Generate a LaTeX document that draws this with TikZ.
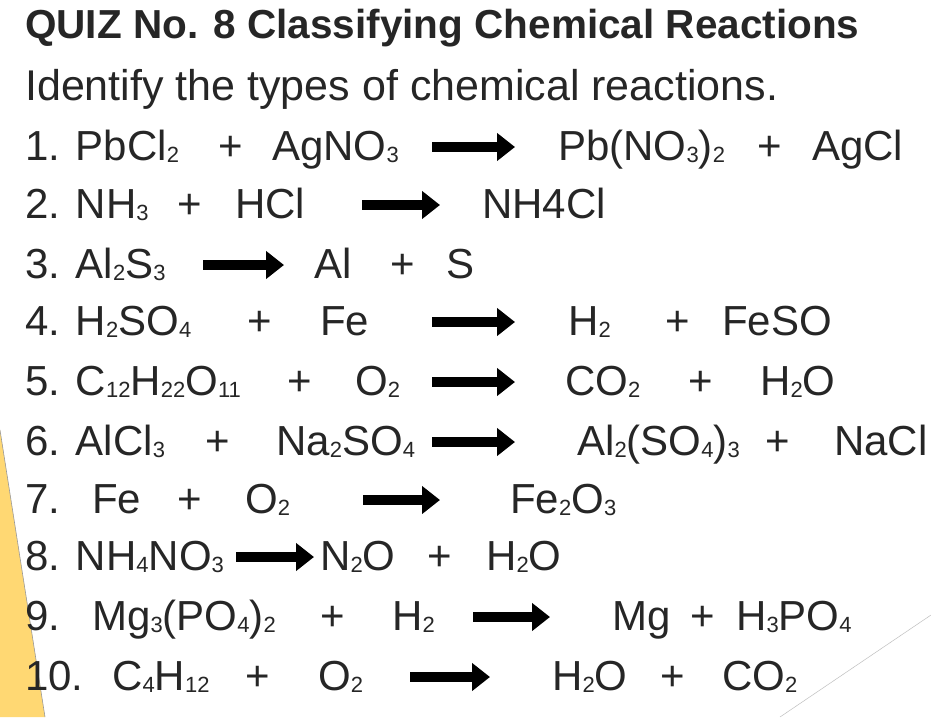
\documentclass[tikz,border=0pt]{standalone}
\usepackage{fontspec}
\setmainfont{Liberation Sans}
\usetikzlibrary{arrows.meta}
\newcommand{\sbs}[1]{\raisebox{-2pt}{\fontsize{22}{22}\selectfont #1}}
\tikzset{
  chem/.style={anchor=base west, inner sep=0pt, font=\fontsize{42}{44}\selectfont, text=black!85},
  react/.style={-{Triangle[length=18pt,width=27pt]}, line width=10pt, black},
}
\begin{document}
\begin{tikzpicture}[x=1pt,y=-1pt]
  \useasboundingbox (0,0) rectangle (931,717);
  \fill[white] (0,0) rectangle (931,717);

  % page decoration
  \fill[orange!55!yellow!55] (0,430) -- (45,717) -- (0,717) -- cycle;
  \draw[black!40, line width=0.6pt] (0,430) -- (45,717);
  \draw[black!25, line width=0.5pt] (780,717) -- (931,615);

  % heading
  \node[chem, font=\bfseries\fontsize{40.5}{42}\selectfont] (title) at (25,38) {QUIZ No. 8 Classifying Chemical Reactions};
  \node[chem, font=\fontsize{43}{45}\selectfont] (task) at (25,100) {Identify the types of chemical reactions.};

  % 1
  \node[chem] (r1a) at (25,160) {1. PbCl\sbs{2}};
  \node[chem] (r1p) at (218,160) {+};
  \node[chem] (r1b) at (272,160) {AgNO\sbs{3}};
  \draw[react] (432,147) -- (515,147);
  \node[chem] (r1c) at (558,160) {Pb(NO\sbs{3})\sbs{2}};
  \node[chem] (r1q) at (757,160) {+};
  \node[chem] (r1d) at (812,160) {AgCl};

  % 2
  \node[chem] (r2a) at (25,218) {2. NH\sbs{3}};
  \node[chem] (r2p) at (177,218) {+};
  \node[chem] (r2b) at (235,218) {HCl};
  \draw[react] (362,205) -- (440,205);
  \node[chem] (r2c) at (482,218) {NH4Cl};

  % 3
  \node[chem] (r3a) at (25,278) {3. Al\sbs{2}S\sbs{3}};
  \draw[react] (203,265) -- (284,265);
  \node[chem] (r3b) at (314,278) {Al};
  \node[chem] (r3p) at (390,278) {+};
  \node[chem] (r3c) at (446,278) {S};

  % 4
  \node[chem] (r4a) at (25,335) {4. H\sbs{2}SO\sbs{4}};
  \node[chem] (r4p) at (247,335) {+};
  \node[chem] (r4b) at (320,335) {Fe};
  \draw[react] (432,322) -- (515,322);
  \node[chem] (r4c) at (568,335) {H\sbs{2}};
  \node[chem] (r4q) at (665,335) {+};
  \node[chem] (r4d) at (722,335) {FeSO};

  % 5
  \node[chem] (r5a) at (25,395) {5. C\sbs{12}H\sbs{22}O\sbs{11}};
  \node[chem] (r5p) at (287,395) {+};
  \node[chem] (r5b) at (355,395) {O\sbs{2}};
  \draw[react] (432,382) -- (515,382);
  \node[chem] (r5c) at (565,395) {CO\sbs{2}};
  \node[chem] (r5q) at (688,395) {+};
  \node[chem] (r5d) at (760,395) {H\sbs{2}O};

  % 6
  \node[chem] (r6a) at (25,455) {6. AlCl\sbs{3}};
  \node[chem] (r6p) at (205,455) {+};
  \node[chem] (r6b) at (276,455) {Na\sbs{2}SO\sbs{4}};
  \draw[react] (432,442) -- (515,442);
  \node[chem] (r6c) at (577,455) {Al\sbs{2}(SO\sbs{4})\sbs{3}};
  \node[chem] (r6q) at (765,455) {+};
  \node[chem] (r6d) at (834,455) {NaCl};

  % 7
  \node[chem] (r7n) at (25,513) {7.};
  \node[chem] (r7a) at (92,513) {Fe};
  \node[chem] (r7p) at (177,513) {+};
  \node[chem] (r7b) at (245,513) {O\sbs{2}};
  \draw[react] (363,500) -- (440,500);
  \node[chem] (r7c) at (510,513) {Fe\sbs{2}O\sbs{3}};

  % 8
  \node[chem] (r8a) at (25,570) {8. NH\sbs{4}NO\sbs{3}};
  \draw[react] (236,557) -- (314,557);
  \node[chem] (r8b) at (320,570) {N\sbs{2}O};
  \node[chem] (r8p) at (427,570) {+};
  \node[chem] (r8c) at (486,570) {H\sbs{2}O};

  % 9
  \node[chem] (r9n) at (25,630) {9.};
  \node[chem] (r9a) at (92,630) {Mg\sbs{3}(PO\sbs{4})\sbs{2}};
  \node[chem] (r9p) at (320,630) {+};
  \node[chem] (r9b) at (392,630) {H\sbs{2}};
  \draw[react] (473,617) -- (550,617);
  \node[chem] (r9c) at (612,630) {Mg};
  \node[chem] (r9q) at (690,630) {+};
  \node[chem] (r9d) at (736,630) {H\sbs{3}PO\sbs{4}};

  % 10
  \node[chem] (r10n) at (25,690) {10.};
  \node[chem] (r10a) at (112,690) {C\sbs{4}H\sbs{12}};
  \node[chem] (r10p) at (245,690) {+};
  \node[chem] (r10b) at (318,690) {O\sbs{2}};
  \draw[react] (410,677) -- (490,677);
  \node[chem] (r10c) at (552,690) {H\sbs{2}O};
  \node[chem] (r10q) at (660,690) {+};
  \node[chem] (r10d) at (722,690) {CO\sbs{2}};
\end{tikzpicture}
\end{document}
